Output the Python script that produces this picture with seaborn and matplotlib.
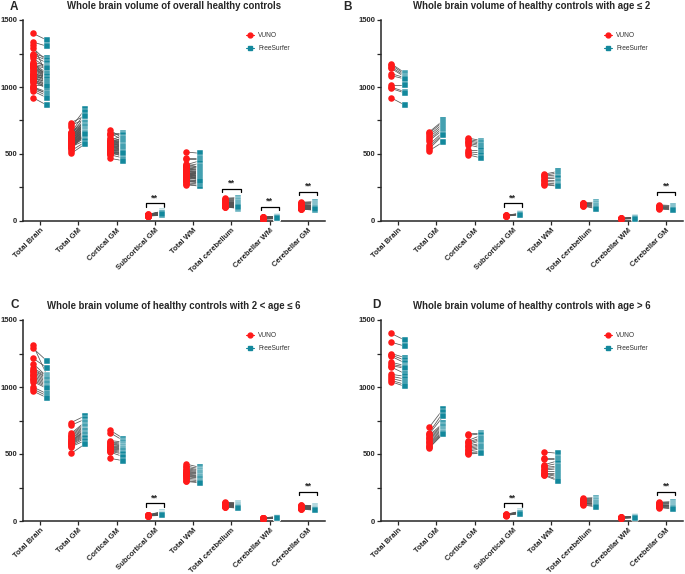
import numpy as np
import pandas as pd
import seaborn as sns
import matplotlib
matplotlib.use("Agg")
import matplotlib.pyplot as plt
from matplotlib.lines import Line2D
from matplotlib.ticker import MultipleLocator

categories = ["Total Brain", "Total GM", "Cortical GM", "Subcortical GM",
              "Total WM", "Total cerebellum", "Cerebellar WM", "Cerebellar GM"]
methods = ["VUNO", "FreeSurfer"]

# ---- age <= 2 (panel B) ----
B_VUNO = [
    [1175, 1165, 1150, 1140, 1100, 1085, 1015, 1000, 990, 920],
    [665, 655, 640, 625, 610, 600, 570, 555, 540, 525],
    [620, 610, 600, 590, 580, 570, 530, 515, 505, 495],
    [44, 43, 42, 41, 40, 40, 39, 38, 37, 36],
    [350, 340, 335, 325, 315, 305, 295, 285, 275, 270],
    [138, 135, 132, 128, 125, 122, 120, 118, 115, 112],
    [22, 21, 20, 19, 19, 18, 17, 16, 15, 14],
    [120, 115, 112, 108, 105, 102, 100, 97, 94, 90],
]
B_FS = [
    [1105, 1095, 1085, 1075, 1070, 1060, 1015, 965, 955, 865],
    [750, 740, 725, 710, 695, 680, 665, 650, 640, 590],
    [600, 590, 580, 570, 560, 545, 530, 510, 490, 470],
    [56, 55, 54, 53, 52, 51, 50, 49, 48, 46],
    [370, 360, 345, 330, 320, 300, 290, 275, 265, 260],
    [140, 135, 130, 125, 120, 115, 110, 105, 98, 92],
    [28, 27, 25, 24, 23, 22, 21, 20, 18, 17],
    [115, 110, 106, 102, 98, 95, 92, 88, 85, 82],
]
# ---- 2 < age <= 6 (panel C) ----
C_VUNO = [
    [1315, 1290, 1215, 1175, 1140, 1130, 1120, 1110, 1100, 1090, 1080, 1070, 1060, 1050, 1040, 1000, 985, 970],
    [735, 715, 655, 645, 635, 625, 615, 610, 600, 595, 590, 585, 580, 575, 570, 560, 555, 505],
    [680, 660, 600, 590, 585, 575, 570, 560, 555, 550, 545, 540, 535, 530, 525, 520, 515, 468],
    [46, 45, 45, 44, 44, 43, 43, 42, 42, 42, 41, 41, 40, 40, 39, 39, 38, 37],
    [425, 410, 400, 390, 380, 370, 365, 360, 355, 350, 345, 340, 335, 330, 320, 310, 300, 295],
    [140, 138, 135, 132, 130, 128, 126, 124, 122, 120, 118, 116, 114, 112, 110, 108, 106, 104],
    [24, 23, 23, 22, 22, 21, 21, 20, 20, 20, 19, 19, 18, 18, 17, 17, 16, 15],
    [118, 116, 114, 112, 110, 108, 106, 105, 104, 102, 100, 99, 98, 96, 95, 93, 91, 89],
]
C_FS = [
    [1090, 1195, 1145, 1080, 1085, 1075, 1070, 1060, 1050, 1040, 1030, 1020, 1010, 1000, 990, 950, 935, 920],
    [785, 760, 740, 730, 720, 710, 700, 690, 680, 675, 670, 660, 650, 640, 630, 620, 600, 575],
    [615, 600, 590, 580, 570, 565, 560, 555, 550, 545, 540, 535, 530, 520, 510, 500, 480, 450],
    [70, 66, 63, 60, 58, 56, 55, 54, 53, 52, 51, 50, 49, 48, 47, 46, 44, 42],
    [400, 390, 380, 375, 370, 365, 360, 355, 350, 340, 335, 330, 325, 320, 310, 300, 290, 285],
    [135, 132, 130, 128, 126, 124, 122, 120, 118, 116, 114, 112, 110, 108, 105, 102, 98, 95],
    [32, 31, 30, 29, 29, 28, 28, 27, 27, 26, 26, 25, 25, 24, 23, 22, 21, 20],
    [115, 112, 110, 108, 106, 104, 102, 100, 98, 96, 95, 93, 91, 89, 87, 85, 82, 80],
]
# ---- age > 6 (panel D) ----
D_VUNO = [
    [1400, 1335, 1250, 1240, 1230, 1185, 1170, 1160, 1150, 1095, 1080, 1065, 1050, 1040],
    [700, 660, 650, 640, 630, 620, 610, 600, 590, 580, 570, 560, 550, 545],
    [650, 640, 600, 590, 580, 570, 560, 550, 540, 530, 520, 510, 505, 500],
    [50, 49, 48, 47, 47, 46, 46, 45, 45, 44, 44, 43, 42, 41],
    [515, 470, 460, 420, 410, 400, 390, 380, 370, 360, 355, 350, 345, 340],
    [170, 165, 160, 156, 152, 148, 145, 142, 138, 135, 132, 128, 124, 120],
    [30, 29, 28, 27, 27, 26, 25, 25, 24, 23, 22, 22, 21, 20],
    [140, 136, 132, 128, 125, 122, 120, 118, 115, 112, 110, 106, 103, 100],
]
D_FS = [
    [1350, 1305, 1220, 1200, 1180, 1160, 1150, 1140, 1100, 1080, 1060, 1040, 1020, 1005],
    [835, 810, 780, 730, 720, 710, 700, 690, 680, 670, 665, 660, 655, 650],
    [655, 650, 640, 620, 610, 600, 580, 570, 560, 550, 540, 520, 510, 505],
    [72, 70, 68, 66, 65, 64, 63, 62, 61, 60, 59, 58, 57, 55],
    [505, 470, 460, 450, 430, 410, 400, 390, 370, 360, 340, 330, 310, 300],
    [175, 170, 165, 160, 155, 150, 146, 142, 138, 132, 126, 120, 112, 105],
    [36, 35, 34, 33, 32, 31, 30, 30, 29, 28, 27, 26, 25, 24],
    [145, 140, 135, 130, 126, 122, 118, 115, 112, 108, 104, 100, 95, 90],
]

titles = ["Whole brain volume of overall healthy controls",
          "Whole brain volume of healthy controls with age \u2264 2",
          "Whole brain volume of healthy controls with 2 < age \u2264 6",
          "Whole brain volume of healthy controls with age > 6"]
letters = ["A", "B", "C", "D"]
sig_cats = [[3, 5, 6, 7], [3, 7], [3, 7], [3, 7]]
bracket_y = {3: 132, 5: 239, 6: 107, 7: 216}

RED = "#FF1A1A"
TEAL = "#13889C"
OFF = 0.18


def make_df(groups):
    rows = []
    sid = 0
    for gv, gf in groups:
        n = len(gv[0])
        for s in range(n):
            for c in range(len(categories)):
                unit = f"{sid + s}_{c}"
                rows.append((unit, c, "VUNO", c - OFF, gv[c][s]))
                rows.append((unit, c, "FreeSurfer", c + OFF, gf[c][s]))
        sid += n
    return pd.DataFrame(rows, columns=["unit", "cat", "method", "x", "value"])


panel_dfs = [
    make_df([(B_VUNO, B_FS), (C_VUNO, C_FS), (D_VUNO, D_FS)]),
    make_df([(B_VUNO, B_FS)]),
    make_df([(C_VUNO, C_FS)]),
    make_df([(D_VUNO, D_FS)]),
]

sns.set_theme(style="ticks")
plt.rcParams["font.family"] = ["Liberation Sans", "DejaVu Sans"]

fig = plt.figure(figsize=(6.85, 5.74), dpi=100)
W, H = 685, 574
boxes = [(23, 20, 302, 201), (381, 20, 302, 201), (23, 320, 302, 201), (381, 320, 302, 201)]
letter_pos = [(14, 7), (348, 7), (15, 305), (376, 305)]

for i, df in enumerate(panel_dfs):
    l, t, w, h = boxes[i]
    ax = fig.add_axes([l / W, (H - t - h) / H, w / W, h / H])
    sns.lineplot(data=df, x="x", y="value", units="unit", estimator=None,
                 color="#555555", lw=0.55, ax=ax, legend=False, sort=True)
    sns.scatterplot(data=df[df.method == "VUNO"], x="x", y="value", color=RED,
                    marker="o", s=22, linewidth=0, ax=ax, legend=False, zorder=3)
    sns.scatterplot(data=df[df.method == "FreeSurfer"], x="x", y="value", color=TEAL,
                    marker="s", s=22, linewidth=0.3, edgecolor="white", ax=ax,
                    legend=False, zorder=3)
    for c in sig_cats[i]:
        yb = bracket_y[c]
        ax.plot([c - 0.24, c - 0.24, c + 0.24, c + 0.24],
                [yb - 25, yb, yb, yb - 25], color="black", lw=0.9)
        ax.text(c, yb + 8, "**", ha="center", va="bottom", fontsize=6.5,
                fontweight="bold")
    ax.set_xlim(-0.44, 7.44)
    ax.set_ylim(0, 1500)
    ax.set_xticks(range(len(categories)))
    ax.set_xticklabels(categories, rotation=45, ha="right", rotation_mode="anchor",
                       fontsize=5.5, fontweight="bold")
    ax.set_yticks([0, 500, 1000, 1500])
    ax.yaxis.set_minor_locator(MultipleLocator(250))
    for lab in ax.get_yticklabels():
        lab.set_fontweight("bold")
        lab.set_fontsize(5.5)
    ax.tick_params(axis="both", which="major", length=3, width=0.9, pad=1.2)
    ax.tick_params(axis="y", which="minor", length=3, width=0.9)
    ax.set_xlabel("")
    ax.set_ylabel("")
    for sp in ["top", "right"]:
        ax.spines[sp].set_visible(False)
    for sp in ["left", "bottom"]:
        ax.spines[sp].set_linewidth(1.1)
    ax.set_title(titles[i], fontsize=6.9, fontweight="bold", pad=8)
    handles = [Line2D([], [], color=RED, marker="o", markersize=3.5, lw=0.8),
               Line2D([], [], color=TEAL, marker="s", markersize=3.5, lw=0.8)]
    ax.legend(handles, methods, loc="upper left", bbox_to_anchor=(0.72, 0.97),
              frameon=False, fontsize=4.8, handlelength=1.2, handletextpad=0.6,
              labelspacing=0.9, labelcolor="#333333")
    fig.text(letter_pos[i][0] / W, 1 - letter_pos[i][1] / H, letters[i],
             fontsize=8.5, fontweight="bold", ha="center", va="center")

fig.savefig("out.png", dpi=100)
